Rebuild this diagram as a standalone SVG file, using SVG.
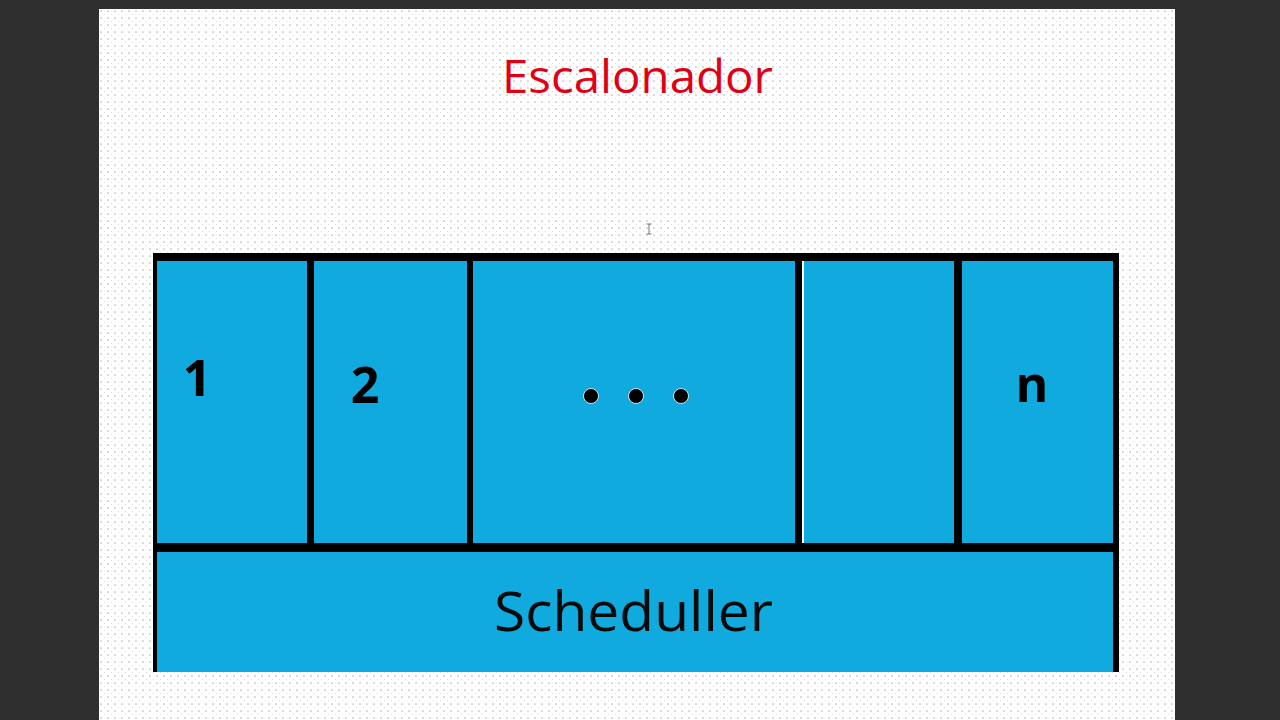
<svg xmlns="http://www.w3.org/2000/svg" width="1280" height="720" viewBox="0 0 1280 720">
  <defs>
    <pattern id="dots" x="99" y="9" width="7" height="7" patternUnits="userSpaceOnUse">
      <rect width="7" height="7" fill="#ffffff"/>
      <circle cx="2" cy="2" r="0.85" fill="#b8b8b8"/>
      <circle cx="5.5" cy="5.5" r="0.6" fill="#d8d8d8"/>
    </pattern>
  </defs>
  <style>
    .cell { fill: #10aadf; }
    .border { fill: #000000; }
    .num { font-family: "Open Sans", "Noto Sans", "Liberation Sans", sans-serif; font-weight: bold; font-size: 50px; fill: #000000; text-anchor: middle; }
    .title { font-family: "Open Sans", "Noto Sans", "Liberation Sans", sans-serif; font-size: 46px; fill: #e00016; }
    .sched { font-family: "Open Sans", "Noto Sans", "Liberation Sans", sans-serif; font-size: 54px; fill: #0a0a0a; }
    .dot { fill: #000000; stroke: #ffffff; stroke-width: 0.8; }
  </style>

  <rect x="0" y="0" width="1280" height="720" fill="#2f2f2f"/>
  <rect x="99" y="9" width="1076" height="711" fill="url(#dots)"/>

  <text class="title" x="502" y="93" textLength="271" lengthAdjust="spacingAndGlyphs">Escalonador</text>

  <!-- cursor -->
  <path d="M646.5 224 h5 M649 224 v10 M646.5 234 h5" stroke="#777777" stroke-width="1" fill="none"/>

  <g id="frame">
    <rect class="border" x="153" y="253" width="966" height="419"/>
  </g>

  <g id="cell-1">
    <rect class="cell" x="157" y="261" width="150" height="282"/>
    <text class="num" x="197" y="396">1</text>
  </g>
  <g id="cell-2">
    <rect class="cell" x="314" y="261" width="153" height="282"/>
    <text class="num" x="365" y="403">2</text>
  </g>
  <g id="cell-dots">
    <rect class="cell" x="473" y="261" width="322" height="282"/>
    <circle class="dot" cx="591" cy="396" r="7.5"/>
    <circle class="dot" cx="636" cy="396" r="7.5"/>
    <circle class="dot" cx="681" cy="396" r="7.5"/>
  </g>
  <g id="cell-4">
    <rect x="802" y="261" width="2" height="282" fill="#ffffff"/>
    <rect class="cell" x="804" y="261" width="150" height="282"/>
  </g>
  <g id="cell-n">
    <rect class="cell" x="962" y="261" width="151" height="282"/>
    <text class="num" x="1032" y="402">n</text>
  </g>
  <g id="scheduller">
    <rect class="cell" x="157" y="552" width="956" height="120"/>
    <text class="sched" x="494" y="631" textLength="279" lengthAdjust="spacingAndGlyphs">Scheduller</text>
  </g>
  <g id="connectors"></g>
</svg>
